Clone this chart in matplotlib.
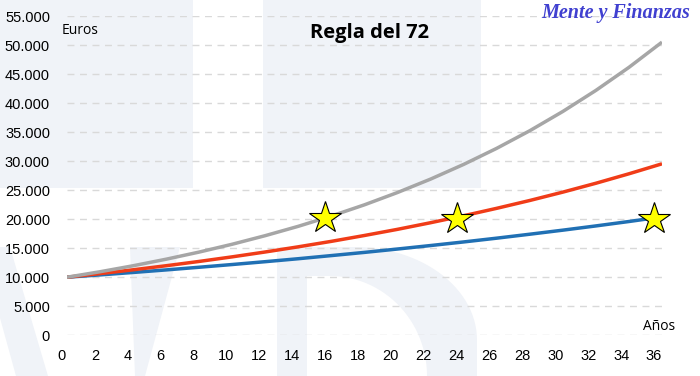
import numpy as np
import matplotlib
matplotlib.use('Agg')
import matplotlib.pyplot as plt
from matplotlib.patches import Polygon, Rectangle

# values (euros, every 2 years)
years = [0, 2, 4, 6, 8, 10, 12, 14, 16, 18, 20, 22, 24, 26, 28, 30, 32, 34, 36]
blue_vals = [10000, 10400, 10820, 11260, 11720, 12190, 12680, 13190, 13730, 14280,
             14860, 15460, 16080, 16730, 17410, 18110, 18840, 19600, 20400]
red_vals = [10000, 10620, 11280, 11980, 12720, 13510, 14350, 15240, 16180, 17190,
            18250, 19390, 20590, 21870, 23220, 24660, 26190, 27820, 29540]
gray_vals = [10000, 10940, 11970, 13100, 14330, 15680, 17160, 18770, 20540, 22470,
             24590, 26900, 29430, 32200, 35230, 38550, 42180, 46150, 50500]
star_x = [16, 24, 36]
star_y = [20200, 20100, 20100]
y_ticks = list(range(0, 55001, 5000))
x_ticks = list(range(0, 37, 2))

W, H = 700, 376
fig = plt.figure(figsize=(W / 100, H / 100), dpi=100)

# faint watermark behind the chart
bg = fig.add_axes([0, 0, 1, 1], zorder=0)
bg.set_xlim(0, W)
bg.set_ylim(H, 0)
bg.axis('off')
wm = '#f0f3f8'
bg.add_patch(Rectangle((0, 0), 193, 188, color=wm, lw=0))
bg.add_patch(Rectangle((263, 0), 218, 188, color=wm, lw=0))
bg.add_patch(Polygon([(0, 247), (10, 247), (48, 376), (16, 376), (0, 318)], color=wm, lw=0))
bg.add_patch(Polygon([(130, 247), (180, 247), (145, 376), (135, 376)], color=wm, lw=0))
t_out = np.linspace(np.pi / 2, 0, 30)
t_in = np.linspace(0, np.pi / 2, 30)
d_pts = [(277, 376), (277, 247)]
d_pts += list(zip(355 + 122 * np.cos(t_out), 340 - 93 * np.sin(t_out)))
d_pts += [(477, 376), (427, 376)]
d_pts += list(zip(330 + 97 * np.cos(t_in), 376 - 100 * np.sin(t_in)))
d_pts += [(307, 276), (307, 376)]
bg.add_patch(Polygon(d_pts, color=wm, lw=0))

y0, y1 = 335.3, 16

# axes for the lines, grid and euro ticks
ax = fig.add_axes([66.7 / W, (H - y0) / H, (662 - 66.7) / W, (y0 - y1) / H], zorder=1)
# axes for the year ticks and the stars (category positions sit a bit to the left)
ax2 = fig.add_axes([62 / W, (H - y0) / H, (654 - 62) / W, (y0 - y1) / H], zorder=2)

for a in (ax, ax2):
    a.set_facecolor('none')
    a.set_xlim(0, 36)
    a.set_ylim(0, 55000)
    for s in a.spines.values():
        s.set_visible(False)

ax.set_yticks(y_ticks)
ax.set_yticklabels(['{:,}'.format(v).replace(',', '.') for v in y_ticks])
ax.set_xticks([])
ax.tick_params(length=0, labelsize=10.5, colors='black', pad=12)
for lab in ax.get_yticklabels():
    lab.set_family('Liberation Sans')
ax.grid(axis='y', color='#d9d9d9', linestyle=(0, (5, 4)), linewidth=1)
ax.set_axisbelow(True)

ax2.set_yticks([])
ax2.set_xticks(x_ticks)
ax2.set_xticklabels([str(v) for v in x_ticks])
ax2.tick_params(length=0, labelsize=10.5, colors='black', pad=10)
for lab in ax2.get_xticklabels():
    lab.set_family('Liberation Sans')

ax.plot(years, blue_vals, color='#2070b4', lw=2.5, solid_capstyle='butt')
ax.plot(years, red_vals, color='#f03c18', lw=2.5, solid_capstyle='butt')
ax.plot(years, gray_vals, color='#a6a6a6', lw=2.5, solid_capstyle='butt')
ax2.plot(star_x, star_y, linestyle='none', marker='*', markersize=24, clip_on=False,
         markerfacecolor='#ffff00', markeredgecolor='black', markeredgewidth=0.8, zorder=5)

fig.text(62 / W, 1 - 31 / H, 'Euros', fontsize=10, family='Open Sans', va='center', ha='left')
fig.text(370 / W, 1 - 33 / H, 'Regla del 72', fontsize=14.5, family='Open Sans',
         fontweight='bold', va='center', ha='center')
fig.text(616 / W, 1 - 13 / H, 'Mente y Finanzas', fontsize=14.5, family='Liberation Serif',
         fontweight='bold', style='italic', color='#4040d0', va='center', ha='center')
fig.text(659 / W, 1 - 326 / H, 'Años', fontsize=10, family='Open Sans', va='center', ha='center')

fig.savefig('out.png', dpi=100)
